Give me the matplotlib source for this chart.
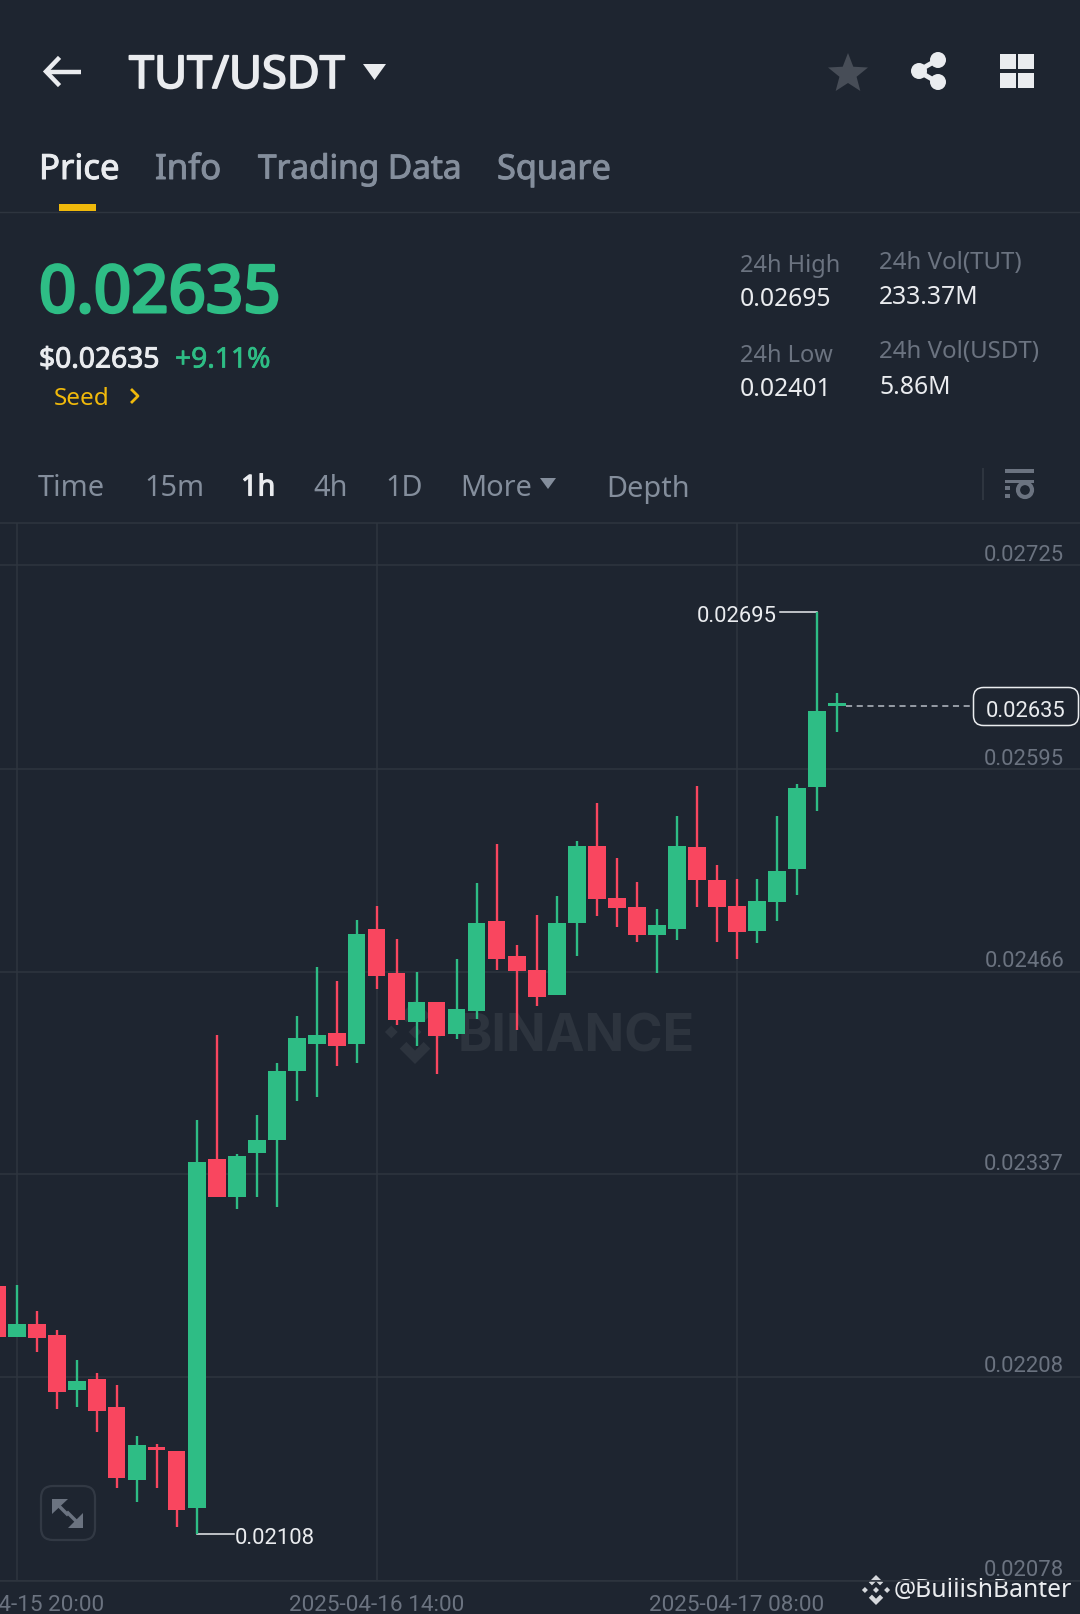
### TUT/USDT 1h candles, phone screenshot layout
import numpy as np
import matplotlib
matplotlib.use("Agg")
import matplotlib.pyplot as plt
import matplotlib.patheffects as pe
from matplotlib.patches import FancyBboxPatch, Polygon, Circle, Rectangle

### data
hours = list(range(-1, 42))
opens = [0.022655, 0.022334, 0.022415, 0.022345, 0.021995, 0.022065, 0.021885, 0.021423, 0.021634, 0.021604,
         0.021243, 0.023466, 0.023226, 0.023506, 0.023587, 0.024029, 0.024199, 0.024269, 0.024199, 0.024929,
         0.024649, 0.024339, 0.024468, 0.024261, 0.024409, 0.024980, 0.024759, 0.024670, 0.024511, 0.024971,
         0.025460, 0.025129, 0.025070, 0.024893, 0.024931, 0.025452, 0.025241, 0.025080, 0.024920, 0.025101,
         0.025312, 0.025834, 0.026354]
closes = [0.022334, 0.022415, 0.022326, 0.021984, 0.022054, 0.021863, 0.021432, 0.021644, 0.021614, 0.021232,
          0.023447, 0.023226, 0.023487, 0.023587, 0.024029, 0.024239, 0.024258, 0.024188, 0.024899, 0.024630,
          0.024350, 0.024468, 0.024250, 0.024420, 0.024970, 0.024740, 0.024662, 0.024500, 0.024970, 0.025460,
          0.025122, 0.025063, 0.024893, 0.024959, 0.025460, 0.025241, 0.025073, 0.024912, 0.025108, 0.025301,
          0.025831, 0.026322, 0.026370]
highs = [0.022655, 0.022665, 0.022500, 0.022380, 0.022186, 0.022103, 0.022027, 0.021704, 0.021653, 0.021604,
         0.023717, 0.024258, 0.023496, 0.023746, 0.024078, 0.024379, 0.024687, 0.024598, 0.024989, 0.025080,
         0.024870, 0.024659, 0.024468, 0.024740, 0.025222, 0.025473, 0.024830, 0.025020, 0.025140, 0.025490,
         0.025732, 0.025382, 0.025229, 0.025059, 0.025651, 0.025840, 0.025341, 0.025250, 0.025250, 0.025651,
         0.025853, 0.026950, 0.026435]
lows = [0.022334, 0.022334, 0.022235, 0.021874, 0.021885, 0.021725, 0.021370, 0.021283, 0.021372, 0.021124,
        0.021080, 0.023226, 0.023148, 0.023226, 0.023158, 0.023838, 0.023859, 0.024060, 0.024080, 0.024549,
        0.024320, 0.024188, 0.024008, 0.024229, 0.024358, 0.024670, 0.024290, 0.024439, 0.024511, 0.024761,
        0.025012, 0.024942, 0.024850, 0.024653, 0.024861, 0.025071, 0.024850, 0.024740, 0.024840, 0.024980,
        0.025150, 0.025683, 0.026184]

price_ticks = [0.02725, 0.02595, 0.02466, 0.02337, 0.02208, 0.02078]
time_ticks = [0, 18, 36]
time_labels = ["2025-04-15 20:00", "2025-04-16 14:00", "2025-04-17 08:00"]
last_price = 0.02635
ymin, ymax = 0.02078, 0.027518
xmin, xmax = -0.835, 53.165

bg = "#1E2530"
line_c = "#2E353F"
green = "#2EBD85"
red = "#F9465F"
white = "#EAECEF"
gray = "#848E9C"
dim = "#6B7380"
yellow = "#F0B90B"
ui_font = "Noto Sans"
num_font = "Roboto"

fig = plt.figure(figsize=(10.8, 16.15), dpi=100, facecolor=bg)

### everything that is not the chart goes on a pixel canvas
ui = fig.add_axes([0, 0, 1, 1], zorder=0)
ui.set_xlim(0, 1080)
ui.set_ylim(1615, 0)
ui.axis("off")

# thick=stroke width, noto sans has no bold face here
def label(x, y, s, color=white, size=18, thick=0, ha="left", font=ui_font):
    t = ui.text(x, y, s, color=color, fontsize=size, ha=ha, va="center", family=font)
    if thick:
        t.set_path_effects([pe.withStroke(linewidth=thick, foreground=color)])

def logo(cx, cy, r, color):
    for sy in (-1, 1):
        pts = [(0, -1), (.48, -.52), (.27, -.31), (0, -.58), (-.27, -.31), (-.48, -.52)]
        ui.add_patch(Polygon([(cx + px * r, cy + sy * py * r) for px, py in pts], color=color, lw=0))
    for dx in (-.74, 0, .74):
        pts = [(dx - .2, 0), (dx, -.2), (dx + .2, 0), (dx, .2)]
        ui.add_patch(Polygon([(cx + px * r, cy + py * r) for px, py in pts], color=color, lw=0))

# header
ui.plot([81, 46], [72.5, 72.5], color=white, lw=3.2, solid_capstyle="butt")
ui.plot([58, 46, 58], [60, 72.5, 85], color=white, lw=3.2, solid_joinstyle="miter")
label(129, 77, "TUT/USDT", size=32.5, thick=1.3)
ui.add_patch(Polygon([(363, 65), (386, 65), (374.5, 81)], color=white, lw=0))

star = []
for k in range(10):
    r = 21 if k % 2 == 0 else 9
    a = -np.pi / 2 + k * np.pi / 5
    star.append((848 + r * np.cos(a), 75 + r * np.sin(a)))
ui.add_patch(Polygon(star, color="#474D57", lw=0))

ui.plot([937, 918, 937], [61, 72, 83], color=white, lw=3.5)
for cx, cy in [(919, 72), (938, 61), (938, 83)]:
    ui.add_patch(Circle((cx, cy), 8, color=white, lw=0))
for x0 in (1000, 1018):
    for y0 in (55, 74):
        ui.add_patch(Rectangle((x0, y0), 15.5, 15, color=white, lw=0))

# tabs
label(39, 171, "Price", size=25, thick=0.7)
label(155, 171, "Info", color=gray, size=25, thick=0.7)
label(258, 171, "Trading Data", color=gray, size=24, thick=0.7)
label(497, 171, "Square", color=gray, size=24.7, thick=0.7)
ui.add_patch(Rectangle((59, 204.5), 37, 7.5, color=yellow, lw=0))
ui.plot([0, 1080], [212.5, 212.5], color=line_c, lw=1)

# price block
label(39, 296, "%.5f" % last_price, color=green, size=47, thick=2.2)
label(39, 361, "$%.5f" % last_price, size=20.3, thick=0.7)
label(175, 361, "+9.11%", color=green, size=20.3, thick=0.5)
label(53.5, 399, "Seed", color=yellow, size=17.5)
ui.plot([132, 138, 132], [391, 397, 403], color=yellow, lw=2)

label(740, 266, "24h High", color=dim, size=17)
label(740, 299, "0.02695", size=17.8)
label(740, 356, "24h Low", color=dim, size=17)
label(740, 389, "0.02401", size=17.8)
label(879, 263, "24h Vol(TUT)", color=dim, size=17.3)
label(879, 297, "233.37M", size=17.8)
label(879, 352, "24h Vol(USDT)", color=dim, size=17.3)
label(879, 387, "5.86M", size=17.8)

# interval row
label(38, 489, "Time", color=gray, size=20.8)
label(144, 489, "15m", color=gray, size=20.8)
label(241, 489, "1h", size=20.8, thick=0.8)
label(313, 489, "4h", color=gray, size=20.8)
label(385, 489, "1D", color=gray, size=20.8)
label(460, 489, "More", color=gray, size=20.8)
ui.add_patch(Polygon([(540, 479), (556, 479), (548, 490)], color=gray, lw=0))
label(606, 489, "Depth", color=gray, size=20.8)
ui.plot([983, 983], [470, 500], color=line_c, lw=1.5)
ui.add_patch(Rectangle((1005, 470), 29, 4, color=dim, lw=0))
ui.add_patch(Rectangle((1005, 481), 29, 3, color=dim, lw=0))
ui.add_patch(Rectangle((1005, 487), 5, 4, color=dim, lw=0))
ui.add_patch(Rectangle((1005, 495), 5, 4, color=dim, lw=0))
ui.add_patch(Circle((1025, 491), 7, facecolor=bg, edgecolor=dim, lw=3))

# background watermark and expand button
logo(415, 1033, 32, "#2D343E")
ui.text(458, 1038, "BINANCE", color="#2D343E", fontsize=37.5, fontweight="bold", va="center", family="Inter")
ui.add_patch(FancyBboxPatch((49, 1495), 38, 38, boxstyle="round,pad=8,rounding_size=12",
                            facecolor="none", edgecolor="#323944", lw=1.6))
ui.add_patch(Polygon([(52, 1500), (68, 1500), (52, 1515)], color=dim, lw=0))
ui.add_patch(Polygon([(83, 1529), (83, 1514), (68, 1529)], color=dim, lw=0))
ui.plot([59, 67], [1507, 1515], color=dim, lw=2.5)
ui.plot([68, 76], [1514, 1522], color=dim, lw=2.5)

### chart, placed over the canvas
top_px, bottom_px = 524, 1581.7
ax = fig.add_axes([0, 1 - bottom_px / 1615, 1, (bottom_px - top_px) / 1615], zorder=1)
ax.set_facecolor("none")
ax.set_xlim(xmin, xmax)
ax.set_ylim(ymin, ymax)

ax.set_yticks(price_ticks)
ax.set_yticklabels([])
ax.set_xticks(time_ticks)
ax.set_xticklabels(time_labels, color=dim, fontsize=16.2, family=num_font)
ax.tick_params(length=0, pad=9.5)
ax.grid(True, color=line_c, lw=1.1)
ax.set_axisbelow(True)
for name, sp in ax.spines.items():
    sp.set_visible(name in ("top", "bottom"))
    sp.set_color(line_c)
    sp.set_linewidth(1.1)

for p in price_ticks:
    ax.annotate("%.5f" % p, xy=(1, p), xycoords=("axes fraction", "data"), xytext=(-16, 11),
                textcoords="offset pixels", color=dim, fontsize=15.8, family=num_font, ha="right", va="center")

# candles
colors = [green if c >= o else red for o, c in zip(opens, closes)]
ax.vlines(hours, lows, highs, colors=colors, lw=1.7, zorder=3)
ax.bar(hours, np.abs(np.array(closes) - np.array(opens)), bottom=np.minimum(opens, closes),
       width=0.88, color=colors, lw=0, zorder=4)

# high and low markers
hi = int(np.argmax(highs))
lo = int(np.argmin(lows))
ax.plot([hours[hi] - 1.83, hours[hi]], [highs[hi], highs[hi]], color=white, lw=1.1, zorder=2)
ax.annotate("%.5f" % highs[hi], xy=(hours[hi], highs[hi]), xytext=(-40, -3), textcoords="offset pixels",
            color=white, fontsize=15.8, family=num_font, ha="right", va="center")
ax.plot([hours[lo], hours[lo] + 1.87], [lows[lo], lows[lo]], color=white, lw=1.1, zorder=2)
ax.annotate("%.5f" % lows[lo], xy=(hours[lo], lows[lo]), xytext=(38, -4), textcoords="offset pixels",
            color=white, fontsize=15.8, family=num_font, ha="left", va="center")

# last price line and box
ax.plot([hours[-1] + 0.45, 47.75], [last_price, last_price], color="#B7BDC6", lw=1.1, dashes=(4, 3), zorder=2)
ui.add_patch(FancyBboxPatch((980, 695), 92, 25, boxstyle="round,pad=6.5,rounding_size=10",
                            facecolor=bg, edgecolor=white, lw=1.1))
label(1026, 712, "%.5f" % last_price, size=15.8, ha="center", font=num_font)

# corner credit
logo(876, 1591, 15, "#D5D8DC")
label(894, 1591, "@BullishBanter", size=17.8, font=ui_font)

fig.savefig("out.png", dpi=100, facecolor=bg)
